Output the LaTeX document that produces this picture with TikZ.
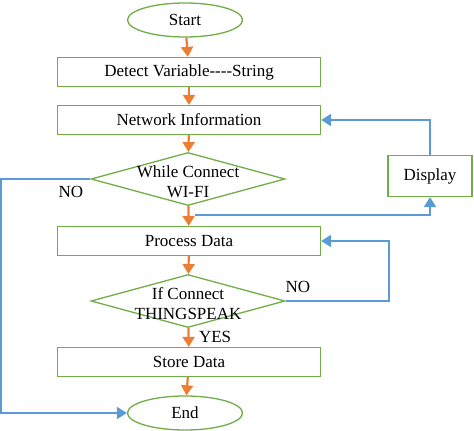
\documentclass[tikz,border=0pt]{standalone}
\usepackage{fontspec}
\setmainfont{Liberation Serif}
\usetikzlibrary{shapes.geometric,arrows.meta}
\definecolor{boxgreen}{RGB}{112,173,71}
\definecolor{arrorange}{RGB}{237,125,49}
\definecolor{lineblue}{RGB}{91,155,213}
\begin{document}
\begin{tikzpicture}[x=1pt, y=-1pt,
  font=\fontsize{17}{19}\selectfont,
  term/.style={ellipse, draw=boxgreen, line width=1.3pt, minimum width=115pt, minimum height=34pt, inner sep=0pt},
  proc/.style={rectangle, draw=boxgreen, line width=1.3pt, minimum width=263pt, minimum height=29pt, inner sep=0pt},
  cond/.style={diamond, draw=boxgreen, line width=1.3pt, minimum width=194pt, minimum height=53pt, inner sep=0pt},
  condtext/.style={align=center, font=\fontsize{17}{20}\selectfont, yshift=-3pt},
  flow/.style={draw=arrorange, line width=2.2pt, -{Triangle[width=12pt,length=10pt]}},
  back/.style={draw=lineblue, line width=2.2pt, -{Triangle[width=12pt,length=10pt]}}]
\useasboundingbox (0,0) rectangle (474,431);
\node[term] (start) at (185,20) {Start};
\node[proc] (detect) at (189,72) {Detect Variable-\kern0pt-\kern0pt-\kern0pt-String};
\draw[flow] (start) -- (detect);
\node[proc] (net) at (189,120) {Network Information};
\draw[flow] (detect) -- (net);
\node[cond, label={[condtext]center:While Connect\\WI-FI}] (wifi) at (188,179) {};
\draw[flow] (net) -- (wifi);
\node[proc] (procdata) at (189,241) {Process Data};
\draw[flow] (wifi) -- (procdata);
\node[rectangle, draw=boxgreen, line width=1.3pt, minimum width=84pt, minimum height=41pt] (disp) at (430,176) {Display};
\coordinate (split) at (195,215);
\draw[back] (split) -| (disp);
\draw[back] (disp) |- (net);
\node[cond, label={[condtext]center:If Connect\\THINGSPEAK}] (thing) at (188,301) {};
\draw[flow] (procdata) -- (thing);
\draw[back] (thing.east) -- ++(103,0) |- (procdata.east);
\node at (298,287) {NO};
\node[proc] (store) at (189,362) {Store Data};
\draw[flow] (thing) -- (store) node[midway, right=6pt] {YES};
\node[term] (stop) at (185,413) {End};
\draw[flow] (store) -- (stop);
\draw[back] (wifi.west) -- ++(-89,0) |- (stop.west);
\node at (71,192) {NO};
\end{tikzpicture}
\end{document}
